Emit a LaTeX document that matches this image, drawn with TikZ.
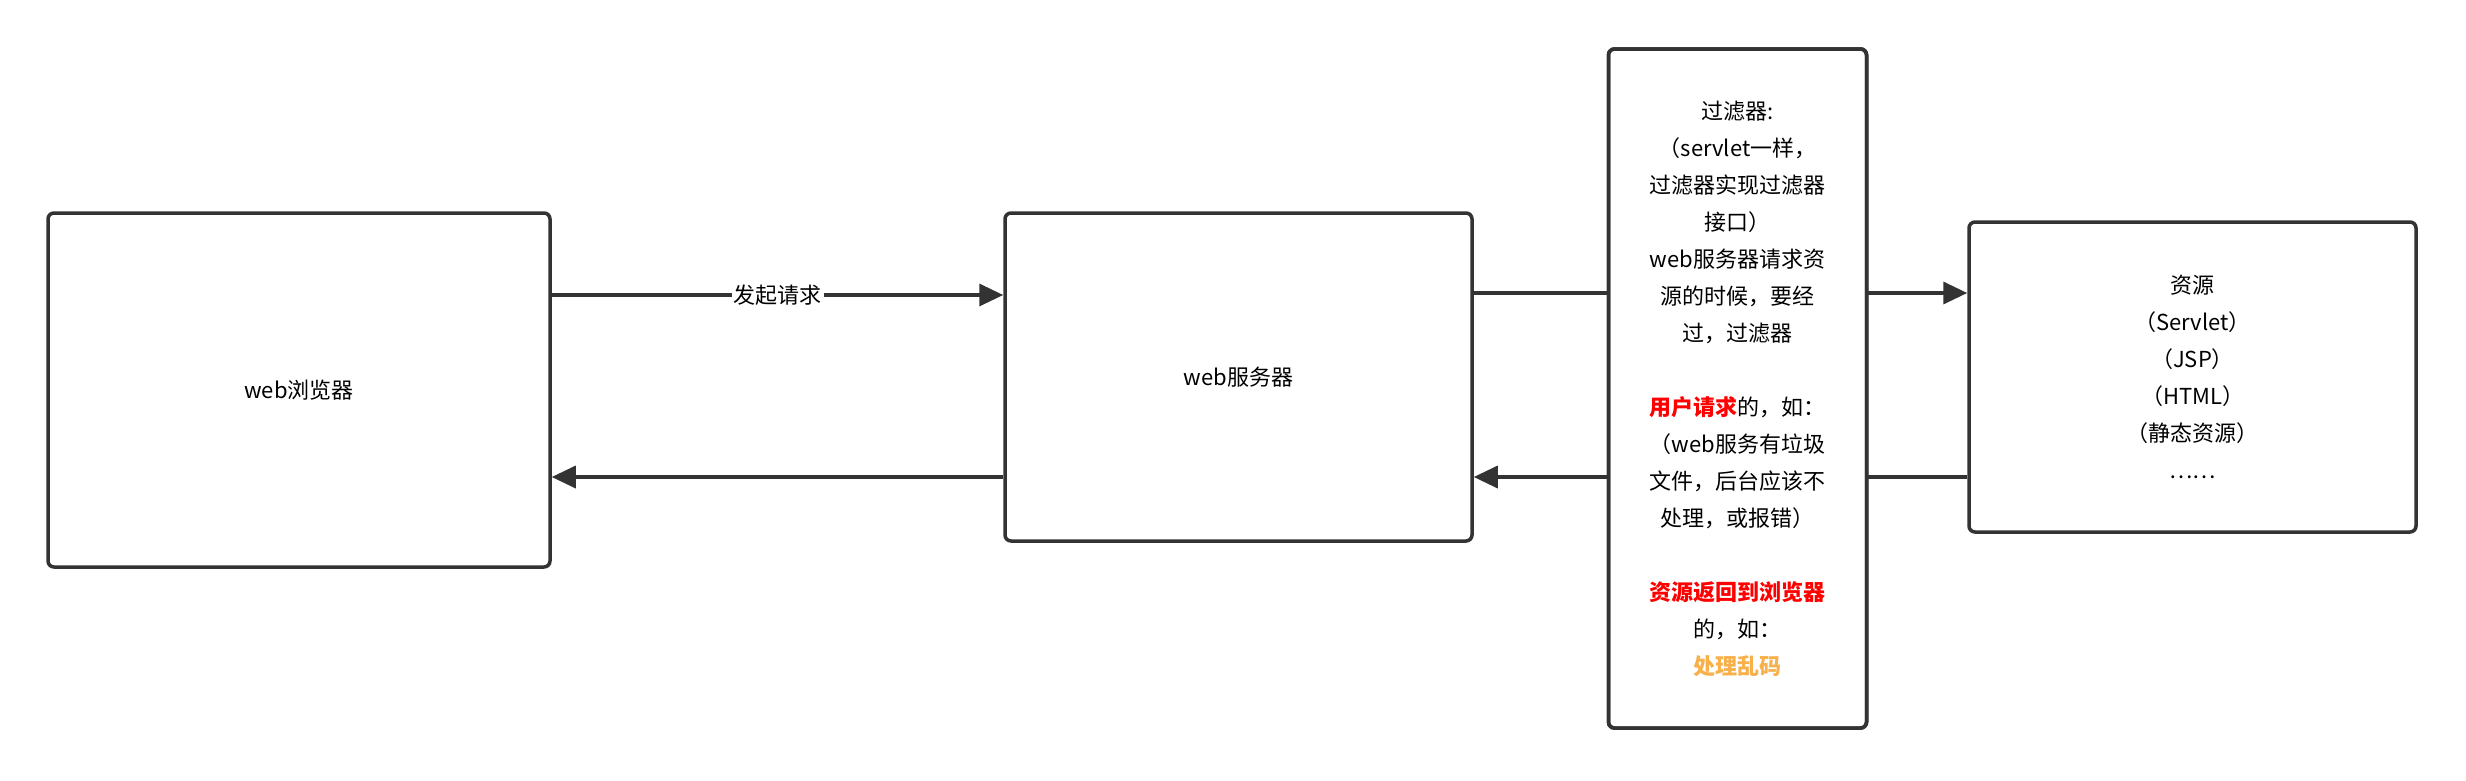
\documentclass[tikz,border=0pt]{standalone}
\usepackage{fontspec}
\setmainfont{Noto Sans CJK SC}
\usetikzlibrary{arrows.meta}
\definecolor{ln}{HTML}{333333}
\definecolor{myred}{HTML}{FF0000}
\definecolor{myorange}{HTML}{F8B04A}
\begin{document}
\begin{tikzpicture}[x=1pt,y=-1pt,
  box/.style={draw=ln,line width=3.5pt,rounded corners=6pt,fill=white,inner sep=0pt,align=center,font=\fontsize{22}{37}\selectfont},
  conn/.style={draw=ln,line width=3.5pt},
  arr/.style={conn,-{Triangle[length=24pt,width=22pt]}}]
\useasboundingbox (0,0) rectangle (2466,780);
\node[box,minimum width=502pt,minimum height=354pt] (br) at (299,390) {web浏览器};
\node[box,minimum width=467pt,minimum height=328pt] (sv) at (1238.5,377) {web服务器};
\node[box,minimum width=258pt,minimum height=679pt] (fl) at (1737.5,388.5) {过滤器:\\（servlet一样，\\过滤器实现过滤器\\接口）\\web服务器请求资\\源的时候，要经\\过，过滤器\\[37pt]{\bfseries\color{myred}用户请求}的，如：\\（web服务有垃圾\\文件，后台应该不\\处理，或报错）\\[37pt]{\bfseries\color{myred}资源返回到浏览器}\\的，如：\\{\bfseries\color{myorange}处理乱码}};
\node[box,minimum width=447pt,minimum height=310pt] (rs) at (2192.5,377) {资源\\（Servlet）\\（JSP）\\（HTML）\\（静态资源）\\……};
\draw[arr] (br.east|-0,295) -- node[fill=white,inner sep=2pt,font=\fontsize{22}{26}\selectfont]{发起请求} (sv.west|-0,295);
\draw[arr] (sv.west|-0,477) -- (br.east|-0,477);
\draw[conn] (sv.east|-0,293) -- (fl.west|-0,293);
\draw[arr] (fl.east|-0,293) -- (rs.west|-0,293);
\draw[conn] (rs.west|-0,477) -- (fl.west|-0,477) ;
\draw[arr] (fl.west|-0,477) -- (sv.east|-0,477);
\node[box,minimum width=258pt,minimum height=679pt] at (fl) {};
\node[box,minimum width=258pt,minimum height=679pt,fill=none] (fl2) at (1737.5,388.5) {过滤器:\\（servlet一样，\\过滤器实现过滤器\\接口）\\web服务器请求资\\源的时候，要经\\过，过滤器\\[37pt]{\bfseries\color{myred}用户请求}的，如：\\（web服务有垃圾\\文件，后台应该不\\处理，或报错）\\[37pt]{\bfseries\color{myred}资源返回到浏览器}\\的，如：\\{\bfseries\color{myorange}处理乱码}};
\end{tikzpicture}
\end{document}
